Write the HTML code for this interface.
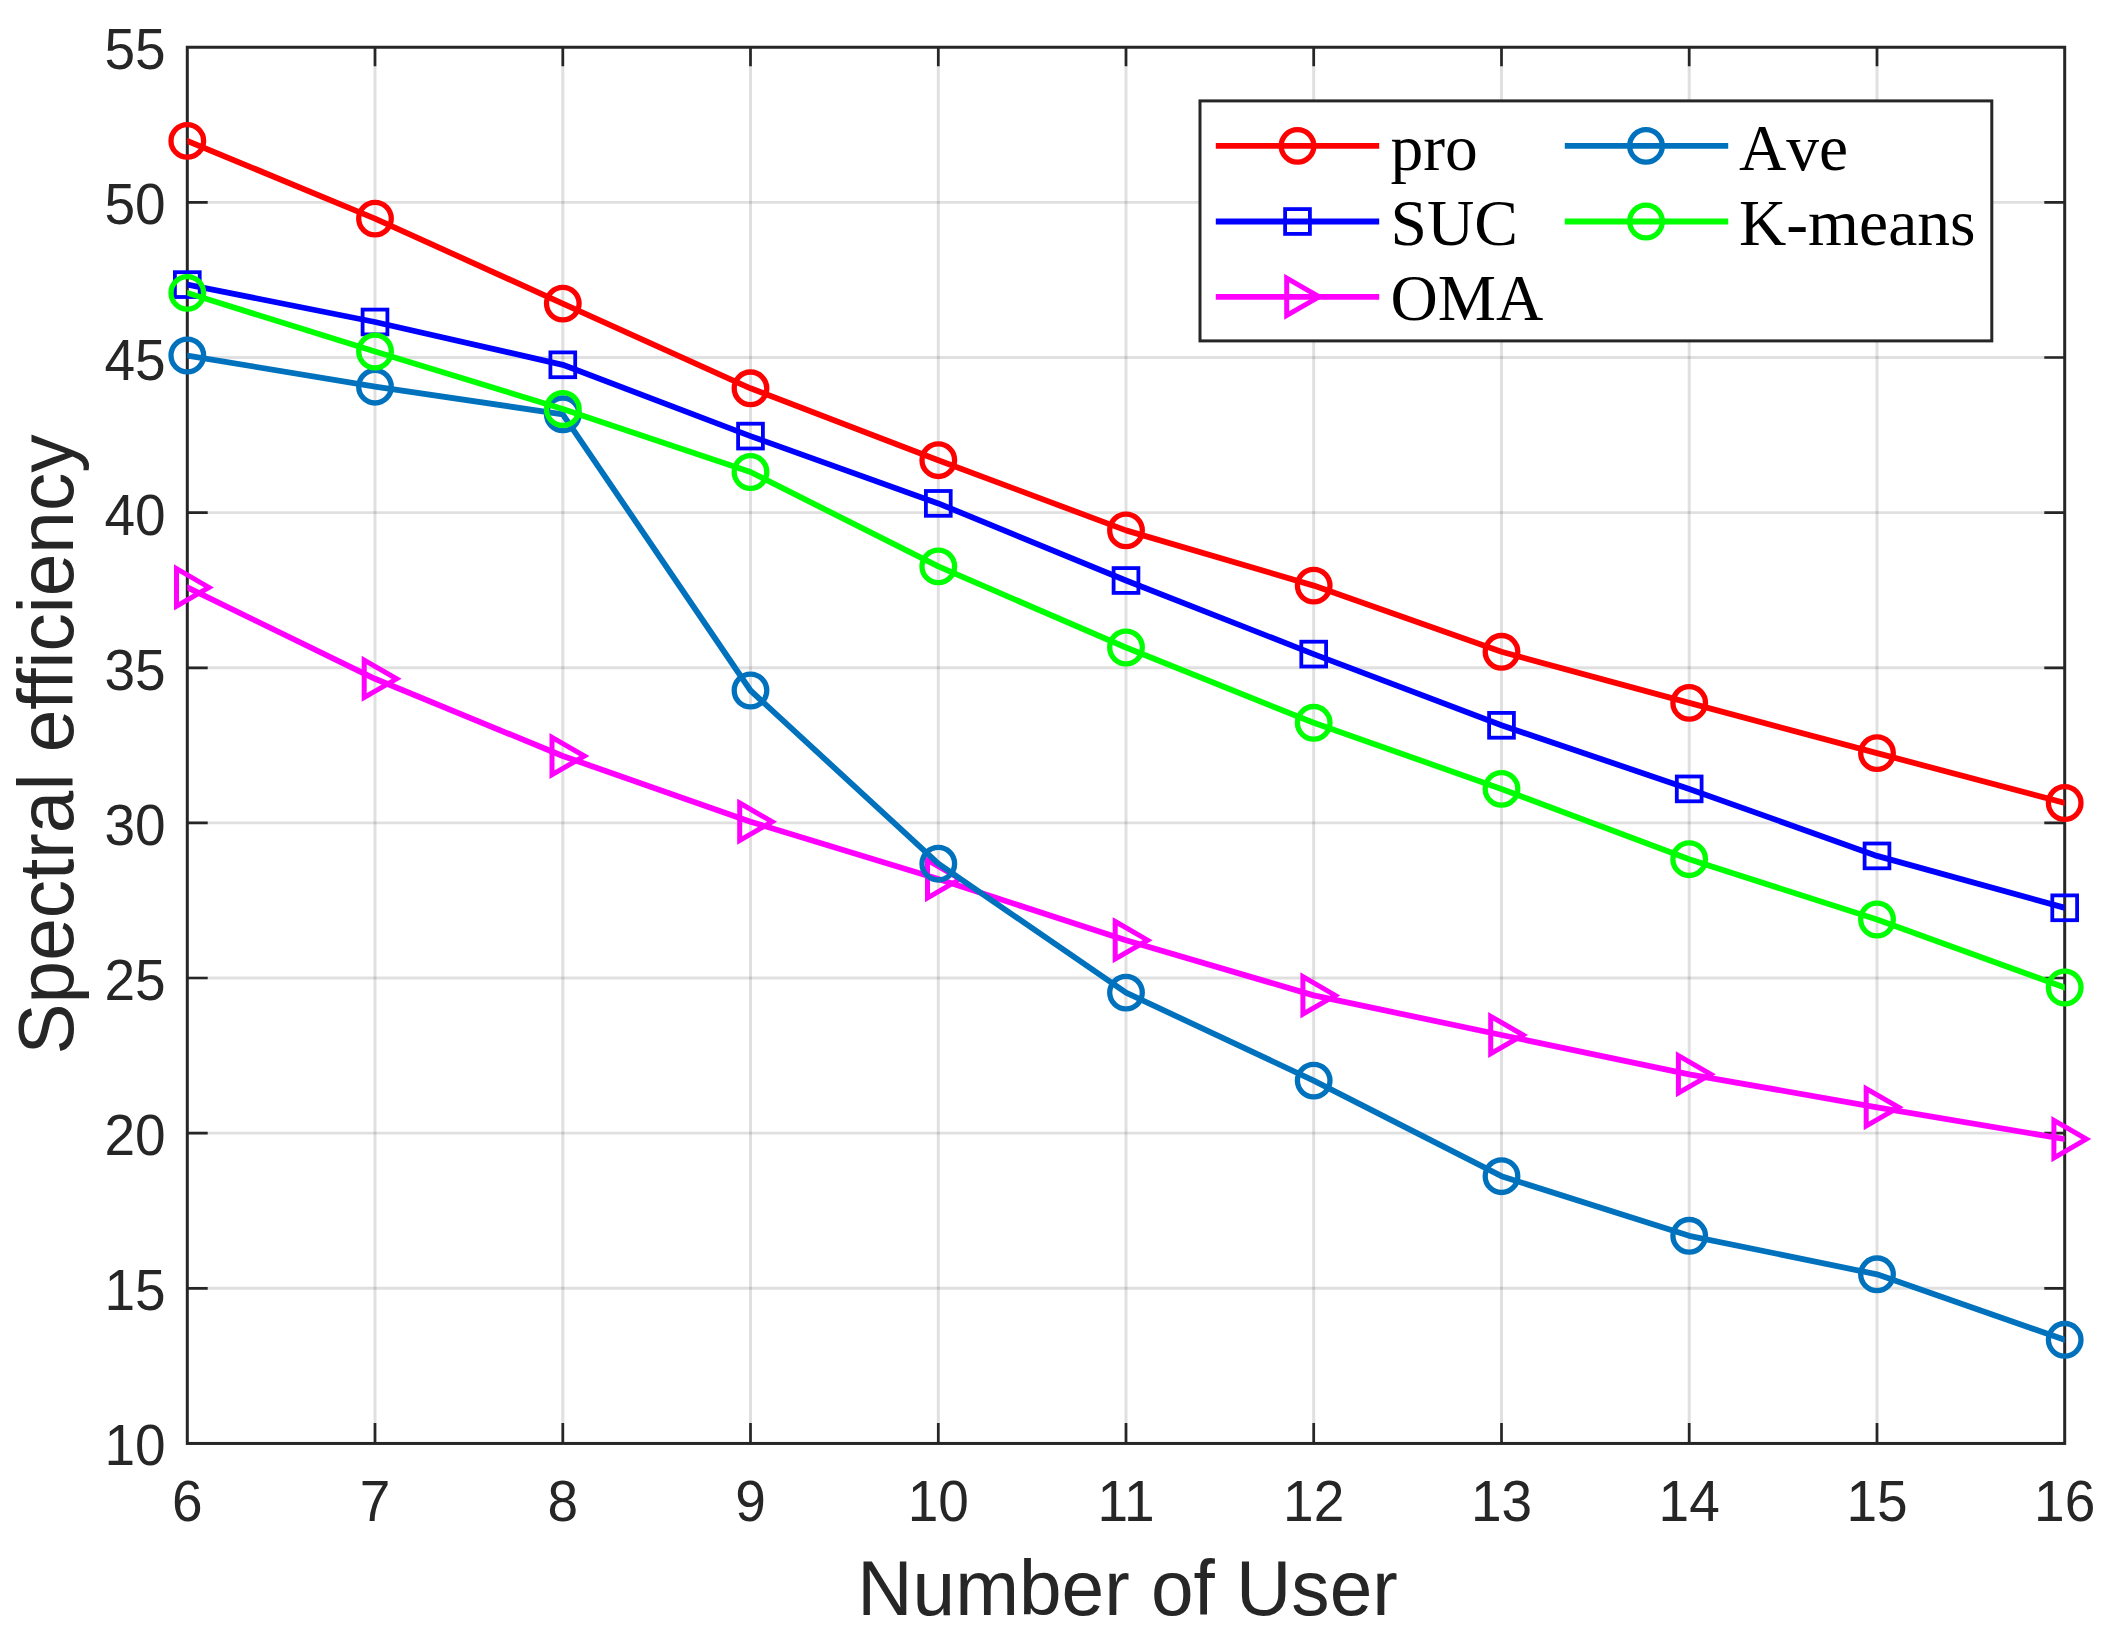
<!DOCTYPE html>
<html lang="en"><head><meta charset="utf-8"><title>Spectral efficiency vs Number of User</title>
<style>html,body{margin:0;padding:0;background:#fff;}svg{display:block;}text{font-family:"Liberation Sans",Arial,sans-serif;fill:#262626;}.lg text{font-family:"Liberation Serif","Times New Roman",serif;fill:#000;font-size:65.5px;font-kerning:none;}.tk{font-size:55px;}.lb{font-size:76.6px;}</style></head><body>
<svg width="2113" height="1643" viewBox="0 0 2113 1643">
<rect width="2113" height="1643" fill="#fff"/>
<path d="M375.0 47.25V1443.4M562.8 47.25V1443.4M750.5 47.25V1443.4M938.3 47.25V1443.4M1126.0 47.25V1443.4M1313.7 47.25V1443.4M1501.5 47.25V1443.4M1689.2 47.25V1443.4M1877.0 47.25V1443.4" stroke="#262626" stroke-opacity="0.145" stroke-width="3.0" fill="none"/>
<path d="M187.3 1288.3H2064.7M187.3 1133.1H2064.7M187.3 978.0H2064.7M187.3 822.9H2064.7M187.3 667.8H2064.7M187.3 512.6H2064.7M187.3 357.5H2064.7M187.3 202.4H2064.7" stroke="#262626" stroke-opacity="0.145" stroke-width="2.9" fill="none"/>
<path d="M375.0 1443.4v-20.4M375.0 47.25v19M562.8 1443.4v-20.4M562.8 47.25v19M750.5 1443.4v-20.4M750.5 47.25v19M938.3 1443.4v-20.4M938.3 47.25v19M1126.0 1443.4v-20.4M1126.0 47.25v19M1313.7 1443.4v-20.4M1313.7 47.25v19M1501.5 1443.4v-20.4M1501.5 47.25v19M1689.2 1443.4v-20.4M1689.2 47.25v19M1877.0 1443.4v-20.4M1877.0 47.25v19M187.3 1288.3h20.4M2064.7 1288.3h-20.4M187.3 1133.1h20.4M2064.7 1133.1h-20.4M187.3 978.0h20.4M2064.7 978.0h-20.4M187.3 822.9h20.4M2064.7 822.9h-20.4M187.3 667.8h20.4M2064.7 667.8h-20.4M187.3 512.6h20.4M2064.7 512.6h-20.4M187.3 357.5h20.4M2064.7 357.5h-20.4M187.3 202.4h20.4M2064.7 202.4h-20.4" stroke="#262626" stroke-width="2.7" fill="none"/>
<rect x="187.3" y="47.25" width="1877.4" height="1396.2" fill="none" stroke="#262626" stroke-width="3"/>
<text class="tk" transform="translate(187.3 1520.6) scale(1 1.04)" text-anchor="middle">6</text>
<text class="tk" transform="translate(375.0 1520.6) scale(1 1.04)" text-anchor="middle">7</text>
<text class="tk" transform="translate(562.8 1520.6) scale(1 1.04)" text-anchor="middle">8</text>
<text class="tk" transform="translate(750.5 1520.6) scale(1 1.04)" text-anchor="middle">9</text>
<text class="tk" transform="translate(938.3 1520.6) scale(1 1.04)" text-anchor="middle">10</text>
<text class="tk" transform="translate(1126.0 1520.6) scale(1 1.04)" text-anchor="middle">11</text>
<text class="tk" transform="translate(1313.7 1520.6) scale(1 1.04)" text-anchor="middle">12</text>
<text class="tk" transform="translate(1501.5 1520.6) scale(1 1.04)" text-anchor="middle">13</text>
<text class="tk" transform="translate(1689.2 1520.6) scale(1 1.04)" text-anchor="middle">14</text>
<text class="tk" transform="translate(1877.0 1520.6) scale(1 1.04)" text-anchor="middle">15</text>
<text class="tk" transform="translate(2064.7 1520.6) scale(1 1.04)" text-anchor="middle">16</text>
<text class="tk" transform="translate(165.6 1465.4) scale(1 1.04)" text-anchor="end">10</text>
<text class="tk" transform="translate(165.6 1310.3) scale(1 1.04)" text-anchor="end">15</text>
<text class="tk" transform="translate(165.6 1155.1) scale(1 1.04)" text-anchor="end">20</text>
<text class="tk" transform="translate(165.6 1000.0) scale(1 1.04)" text-anchor="end">25</text>
<text class="tk" transform="translate(165.6 844.9) scale(1 1.04)" text-anchor="end">30</text>
<text class="tk" transform="translate(165.6 689.8) scale(1 1.04)" text-anchor="end">35</text>
<text class="tk" transform="translate(165.6 534.6) scale(1 1.04)" text-anchor="end">40</text>
<text class="tk" transform="translate(165.6 379.5) scale(1 1.04)" text-anchor="end">45</text>
<text class="tk" transform="translate(165.6 224.4) scale(1 1.04)" text-anchor="end">50</text>
<text class="tk" transform="translate(165.6 69.2) scale(1 1.04)" text-anchor="end">55</text>
<text class="lb" transform="translate(1127.5 1614.6) scale(1 1.015)" text-anchor="middle">Number of User</text>
<text class="lb" transform="translate(72.6 744.5) rotate(-90) scale(1 1.015)" text-anchor="middle">Spectral efficiency</text>
<clipPath id="pc"><rect x="187.3" y="47.25" width="1877.4" height="1396.2"/></clipPath>
<polyline points="187.3,140.9 375.0,218.6 562.8,303.6 750.5,388.3 938.3,460.2 1126.0,530.4 1313.7,585.6 1501.5,651.8 1689.2,702.9 1877.0,753.1 2064.7,803.0" fill="none" stroke="#ff0000" stroke-width="5.8" stroke-linejoin="round" stroke-linecap="square" clip-path="url(#pc)"/>
<circle cx="187.3" cy="140.9" r="16.3" fill="none" stroke="#ff0000" stroke-width="5.3"/>
<circle cx="375.0" cy="218.6" r="16.3" fill="none" stroke="#ff0000" stroke-width="5.3"/>
<circle cx="562.8" cy="303.6" r="16.3" fill="none" stroke="#ff0000" stroke-width="5.3"/>
<circle cx="750.5" cy="388.3" r="16.3" fill="none" stroke="#ff0000" stroke-width="5.3"/>
<circle cx="938.3" cy="460.2" r="16.3" fill="none" stroke="#ff0000" stroke-width="5.3"/>
<circle cx="1126.0" cy="530.4" r="16.3" fill="none" stroke="#ff0000" stroke-width="5.3"/>
<circle cx="1313.7" cy="585.6" r="16.3" fill="none" stroke="#ff0000" stroke-width="5.3"/>
<circle cx="1501.5" cy="651.8" r="16.3" fill="none" stroke="#ff0000" stroke-width="5.3"/>
<circle cx="1689.2" cy="702.9" r="16.3" fill="none" stroke="#ff0000" stroke-width="5.3"/>
<circle cx="1877.0" cy="753.1" r="16.3" fill="none" stroke="#ff0000" stroke-width="5.3"/>
<circle cx="2064.7" cy="803.0" r="16.3" fill="none" stroke="#ff0000" stroke-width="5.3"/>
<polyline points="187.3,284.6 375.0,322.0 562.8,364.8 750.5,436.1 938.3,503.4 1126.0,580.5 1313.7,654.1 1501.5,725.3 1689.2,788.9 1877.0,855.9 2064.7,907.8" fill="none" stroke="#0000ff" stroke-width="5.8" stroke-linejoin="round" stroke-linecap="square" clip-path="url(#pc)"/>
<rect x="174.9" y="272.2" width="24.8" height="24.8" fill="none" stroke="#0000ff" stroke-width="3.8"/>
<rect x="362.6" y="309.6" width="24.8" height="24.8" fill="none" stroke="#0000ff" stroke-width="3.8"/>
<rect x="550.4" y="352.4" width="24.8" height="24.8" fill="none" stroke="#0000ff" stroke-width="3.8"/>
<rect x="738.1" y="423.7" width="24.8" height="24.8" fill="none" stroke="#0000ff" stroke-width="3.8"/>
<rect x="925.9" y="491.0" width="24.8" height="24.8" fill="none" stroke="#0000ff" stroke-width="3.8"/>
<rect x="1113.6" y="568.1" width="24.8" height="24.8" fill="none" stroke="#0000ff" stroke-width="3.8"/>
<rect x="1301.3" y="641.7" width="24.8" height="24.8" fill="none" stroke="#0000ff" stroke-width="3.8"/>
<rect x="1489.1" y="712.9" width="24.8" height="24.8" fill="none" stroke="#0000ff" stroke-width="3.8"/>
<rect x="1676.8" y="776.5" width="24.8" height="24.8" fill="none" stroke="#0000ff" stroke-width="3.8"/>
<rect x="1864.6" y="843.5" width="24.8" height="24.8" fill="none" stroke="#0000ff" stroke-width="3.8"/>
<rect x="2052.3" y="895.4" width="24.8" height="24.8" fill="none" stroke="#0000ff" stroke-width="3.8"/>
<polyline points="187.3,587.4 375.0,678.8 562.8,756.0 750.5,821.7 938.3,879.1 1126.0,940.2 1313.7,995.4 1501.5,1035.0 1689.2,1074.3 1877.0,1107.3 2064.7,1139.1" fill="none" stroke="#ff00ff" stroke-width="5.8" stroke-linejoin="round" stroke-linecap="square" clip-path="url(#pc)"/>
<path d="M176.5 568.7L208.9 587.4L176.5 606.1Z" fill="none" stroke="#ff00ff" stroke-width="5" stroke-linejoin="miter"/>
<path d="M364.2 660.1L396.6 678.8L364.2 697.5Z" fill="none" stroke="#ff00ff" stroke-width="5" stroke-linejoin="miter"/>
<path d="M552.0 737.3L584.4 756.0L552.0 774.7Z" fill="none" stroke="#ff00ff" stroke-width="5" stroke-linejoin="miter"/>
<path d="M739.7 803.0L772.1 821.7L739.7 840.4Z" fill="none" stroke="#ff00ff" stroke-width="5" stroke-linejoin="miter"/>
<path d="M927.5 860.4L959.9 879.1L927.5 897.8Z" fill="none" stroke="#ff00ff" stroke-width="5" stroke-linejoin="miter"/>
<path d="M1115.2 921.5L1147.6 940.2L1115.2 958.9Z" fill="none" stroke="#ff00ff" stroke-width="5" stroke-linejoin="miter"/>
<path d="M1302.9 976.7L1335.3 995.4L1302.9 1014.1Z" fill="none" stroke="#ff00ff" stroke-width="5" stroke-linejoin="miter"/>
<path d="M1490.7 1016.3L1523.1 1035.0L1490.7 1053.7Z" fill="none" stroke="#ff00ff" stroke-width="5" stroke-linejoin="miter"/>
<path d="M1678.4 1055.6L1710.8 1074.3L1678.4 1093.0Z" fill="none" stroke="#ff00ff" stroke-width="5" stroke-linejoin="miter"/>
<path d="M1866.2 1088.6L1898.6 1107.3L1866.2 1126.0Z" fill="none" stroke="#ff00ff" stroke-width="5" stroke-linejoin="miter"/>
<path d="M2053.9 1120.4L2086.3 1139.1L2053.9 1157.8Z" fill="none" stroke="#ff00ff" stroke-width="5" stroke-linejoin="miter"/>
<polyline points="187.3,355.5 375.0,386.7 562.8,414.3 750.5,690.5 938.3,863.7 1126.0,992.6 1313.7,1080.6 1501.5,1176.2 1689.2,1235.8 1877.0,1274.3 2064.7,1339.8" fill="none" stroke="#0072bd" stroke-width="5.8" stroke-linejoin="round" stroke-linecap="square" clip-path="url(#pc)"/>
<circle cx="187.3" cy="355.5" r="16.3" fill="none" stroke="#0072bd" stroke-width="5.3"/>
<circle cx="375.0" cy="386.7" r="16.3" fill="none" stroke="#0072bd" stroke-width="5.3"/>
<circle cx="562.8" cy="414.3" r="16.3" fill="none" stroke="#0072bd" stroke-width="5.3"/>
<circle cx="750.5" cy="690.5" r="16.3" fill="none" stroke="#0072bd" stroke-width="5.3"/>
<circle cx="938.3" cy="863.7" r="16.3" fill="none" stroke="#0072bd" stroke-width="5.3"/>
<circle cx="1126.0" cy="992.6" r="16.3" fill="none" stroke="#0072bd" stroke-width="5.3"/>
<circle cx="1313.7" cy="1080.6" r="16.3" fill="none" stroke="#0072bd" stroke-width="5.3"/>
<circle cx="1501.5" cy="1176.2" r="16.3" fill="none" stroke="#0072bd" stroke-width="5.3"/>
<circle cx="1689.2" cy="1235.8" r="16.3" fill="none" stroke="#0072bd" stroke-width="5.3"/>
<circle cx="1877.0" cy="1274.3" r="16.3" fill="none" stroke="#0072bd" stroke-width="5.3"/>
<circle cx="2064.7" cy="1339.8" r="16.3" fill="none" stroke="#0072bd" stroke-width="5.3"/>
<polyline points="187.3,292.9 375.0,351.5 562.8,409.0 750.5,472.0 938.3,566.4 1126.0,647.5 1313.7,722.8 1501.5,788.9 1689.2,859.2 1877.0,919.5 2064.7,987.5" fill="none" stroke="#00ff00" stroke-width="5.8" stroke-linejoin="round" stroke-linecap="square" clip-path="url(#pc)"/>
<circle cx="187.3" cy="292.9" r="16.3" fill="none" stroke="#00ff00" stroke-width="5.3"/>
<circle cx="375.0" cy="351.5" r="16.3" fill="none" stroke="#00ff00" stroke-width="5.3"/>
<circle cx="562.8" cy="409.0" r="16.3" fill="none" stroke="#00ff00" stroke-width="5.3"/>
<circle cx="750.5" cy="472.0" r="16.3" fill="none" stroke="#00ff00" stroke-width="5.3"/>
<circle cx="938.3" cy="566.4" r="16.3" fill="none" stroke="#00ff00" stroke-width="5.3"/>
<circle cx="1126.0" cy="647.5" r="16.3" fill="none" stroke="#00ff00" stroke-width="5.3"/>
<circle cx="1313.7" cy="722.8" r="16.3" fill="none" stroke="#00ff00" stroke-width="5.3"/>
<circle cx="1501.5" cy="788.9" r="16.3" fill="none" stroke="#00ff00" stroke-width="5.3"/>
<circle cx="1689.2" cy="859.2" r="16.3" fill="none" stroke="#00ff00" stroke-width="5.3"/>
<circle cx="1877.0" cy="919.5" r="16.3" fill="none" stroke="#00ff00" stroke-width="5.3"/>
<circle cx="2064.7" cy="987.5" r="16.3" fill="none" stroke="#00ff00" stroke-width="5.3"/>
<g class="lg">
<rect x="1200" y="100.9" width="791.8" height="240" fill="#fff" stroke="#262626" stroke-width="3"/>
<path d="M1215.8 145.9H1379.2" stroke="#ff0000" stroke-width="5.8"/>
<circle cx="1297.5" cy="145.9" r="16.3" fill="none" stroke="#ff0000" stroke-width="5.3"/>
<text x="1390.5" y="170.4">pro</text>
<path d="M1215.8 221.5H1379.2" stroke="#0000ff" stroke-width="5.8"/>
<rect x="1285.1" y="209.1" width="24.8" height="24.8" fill="none" stroke="#0000ff" stroke-width="3.8"/>
<text x="1390.5" y="245.1">SUC</text>
<path d="M1215.8 296.8H1379.2" stroke="#ff00ff" stroke-width="5.8"/>
<path d="M1286.7 278.1L1319.1 296.8L1286.7 315.5Z" fill="none" stroke="#ff00ff" stroke-width="5" stroke-linejoin="miter"/>
<text x="1390.5" y="320.1">OMA</text>
<path d="M1564.8 145.9H1728.2" stroke="#0072bd" stroke-width="5.8"/>
<circle cx="1646.0" cy="145.9" r="16.3" fill="none" stroke="#0072bd" stroke-width="5.3"/>
<text x="1739.0" y="170.4">Ave</text>
<path d="M1564.8 221.5H1728.2" stroke="#00ff00" stroke-width="5.8"/>
<circle cx="1646.0" cy="221.5" r="16.3" fill="none" stroke="#00ff00" stroke-width="5.3"/>
<text x="1739.0" y="245.1">K-means</text>
</g>
</svg></body></html>
